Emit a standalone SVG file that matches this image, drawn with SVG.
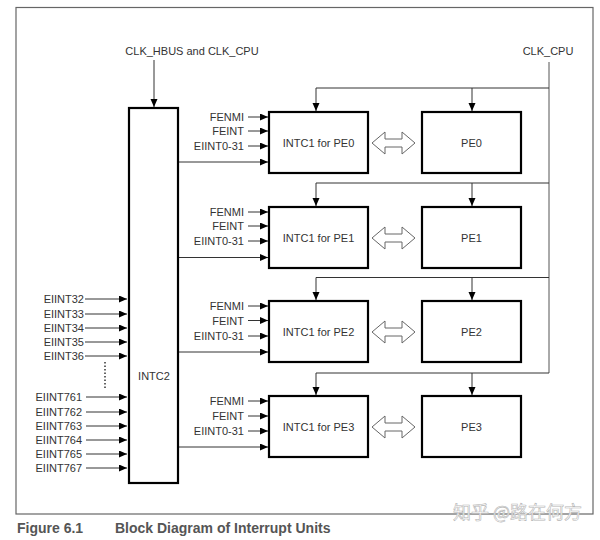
<svg xmlns="http://www.w3.org/2000/svg" width="600" height="540" viewBox="0 0 600 540">
<defs>
<marker id="ah" markerUnits="userSpaceOnUse" markerWidth="9" markerHeight="8" refX="8" refY="3.5" orient="auto">
<path d="M0,0 L8,3.5 L0,7 z" fill="#000"/>
</marker>
<style>
.t{font-family:"Liberation Sans",Arial,sans-serif;font-size:11px;fill:#333}
.tr{text-anchor:end}
.tm{text-anchor:middle}
.box{fill:#fff;stroke:#000;stroke-width:2.2}
.ln{fill:none;stroke:#555;stroke-width:1}
.ar{fill:none;stroke:#333;stroke-width:1;marker-end:url(#ah)}
.dbl{fill:#fff;stroke:#666;stroke-width:1}
.cap{font-family:"Liberation Sans",Arial,sans-serif;font-size:14px;font-weight:bold;fill:#555}
</style>
</defs>
<rect width="600" height="540" fill="#fff"/>
<rect x="16" y="7.5" width="577" height="506.5" fill="none" stroke="#666" stroke-width="1.2"/>

<g id="connectors">
<path class="ar" d="M154,60 V107"/>
<path class="ln" d="M549,62 V373"/>
<path class="ar" d="M549,88 H316 V111"/>
<path class="ar" d="M472,88 V111"/>
<path class="ar" d="M549,183 H316 V206"/>
<path class="ar" d="M472,183 V206"/>
<path class="ar" d="M549,277.5 H316 V300"/>
<path class="ar" d="M472,277.5 V300"/>
<path class="ar" d="M549,373 H316 V395"/>
<path class="ar" d="M472,373 V395"/>
<path class="ar" d="M248,117 H268"/>
<path class="ar" d="M248,131 H268"/>
<path class="ar" d="M248,146 H268"/>
<path class="ar" d="M178,162 H268"/>
<path class="ar" d="M248,212 H268"/>
<path class="ar" d="M248,226 H268"/>
<path class="ar" d="M248,241 H268"/>
<path class="ar" d="M178,257.5 H268"/>
<path class="ar" d="M248,306 H268"/>
<path class="ar" d="M248,320.5 H268"/>
<path class="ar" d="M248,336 H268"/>
<path class="ar" d="M178,352 H268"/>
<path class="ar" d="M248,401 H268"/>
<path class="ar" d="M248,416 H268"/>
<path class="ar" d="M248,431 H268"/>
<path class="ar" d="M178,447 H268"/>
<path class="ar" d="M85,299 H127"/>
<path class="ar" d="M85,314 H127"/>
<path class="ar" d="M85,328 H127"/>
<path class="ar" d="M85,342 H127"/>
<path class="ar" d="M85,356 H127"/>
<path class="ar" d="M86,397 H127"/>
<path class="ar" d="M86,412 H127"/>
<path class="ar" d="M86,426 H127"/>
<path class="ar" d="M86,440 H127"/>
<path class="ar" d="M86,454 H127"/>
<path class="ar" d="M86,468 H127"/>
<path d="M105,362 V389" stroke="#333" stroke-width="1.5" stroke-dasharray="1.5 2" fill="none"/>
<path class="dbl" d="M372,143 L385,132 V139 H402 V132 L415,143 L402,154 V147 H385 V154 Z"/>
<path class="dbl" d="M372,238 L385,227 V234 H402 V227 L415,238 L402,249 V242 H385 V249 Z"/>
<path class="dbl" d="M372,332 L385,321 V328 H402 V321 L415,332 L402,343 V336 H385 V343 Z"/>
<path class="dbl" d="M372,427 L385,416 V423 H402 V416 L415,427 L402,438 V431 H385 V438 Z"/>
</g>

<text class="t tm" x="192" y="55">CLK_HBUS and CLK_CPU</text>
<text class="t tm" x="548" y="55">CLK_CPU</text>

<g id="intc2">
<rect class="box" x="129" y="108" width="49" height="375"/>
<text class="t tm" x="154" y="380">INTC2</text>
</g>

<g id="intc2-inputs">
<text class="t tr" x="84" y="303">EIINT32</text>
<text class="t tr" x="84" y="318">EIINT33</text>
<text class="t tr" x="84" y="332">EIINT34</text>
<text class="t tr" x="84" y="346">EIINT35</text>
<text class="t tr" x="84" y="360">EIINT36</text>
<text class="t tr" x="82" y="401">EIINT761</text>
<text class="t tr" x="82" y="416">EIINT762</text>
<text class="t tr" x="82" y="430">EIINT763</text>
<text class="t tr" x="82" y="444">EIINT764</text>
<text class="t tr" x="82" y="458">EIINT765</text>
<text class="t tr" x="82" y="472">EIINT767</text>
</g>

<g id="intc1-pe0">
<rect class="box" x="269" y="112" width="99" height="61"/>
<text class="t tm" x="318.5" y="147">INTC1 for PE0</text>
<text class="t tr" x="244" y="121">FENMI</text>
<text class="t tr" x="244" y="135">FEINT</text>
<text class="t tr" x="244" y="150">EIINT0-31</text>
</g>
<g id="pe0">
<rect class="box" x="422" y="112" width="99" height="61"/>
<text class="t tm" x="471.5" y="147">PE0</text>
</g>

<g id="intc1-pe1">
<rect class="box" x="269" y="207" width="99" height="61"/>
<text class="t tm" x="318.5" y="242">INTC1 for PE1</text>
<text class="t tr" x="244" y="216">FENMI</text>
<text class="t tr" x="244" y="230">FEINT</text>
<text class="t tr" x="244" y="245">EIINT0-31</text>
</g>
<g id="pe1">
<rect class="box" x="422" y="207" width="99" height="61"/>
<text class="t tm" x="471.5" y="242">PE1</text>
</g>

<g id="intc1-pe2">
<rect class="box" x="269" y="301" width="99" height="61"/>
<text class="t tm" x="318.5" y="336">INTC1 for PE2</text>
<text class="t tr" x="244" y="310">FENMI</text>
<text class="t tr" x="244" y="324.5">FEINT</text>
<text class="t tr" x="244" y="340">EIINT0-31</text>
</g>
<g id="pe2">
<rect class="box" x="422" y="301" width="99" height="61"/>
<text class="t tm" x="471.5" y="336">PE2</text>
</g>

<g id="intc1-pe3">
<rect class="box" x="269" y="396" width="99" height="61"/>
<text class="t tm" x="318.5" y="431">INTC1 for PE3</text>
<text class="t tr" x="244" y="405">FENMI</text>
<text class="t tr" x="244" y="420">FEINT</text>
<text class="t tr" x="244" y="435">EIINT0-31</text>
</g>
<g id="pe3">
<rect class="box" x="422" y="396" width="99" height="61"/>
<text class="t tm" x="471.5" y="431">PE3</text>
</g>

<text class="cap" x="17" y="533">Figure 6.1</text>
<text class="cap" x="115" y="533">Block Diagram of Interrupt Units</text>
<text x="453" y="519" font-family="'Noto Sans CJK SC',sans-serif" font-size="18" fill="#fff" stroke="#b5b5b5" stroke-width="0.6">知乎 @路在何方</text>
</svg>
